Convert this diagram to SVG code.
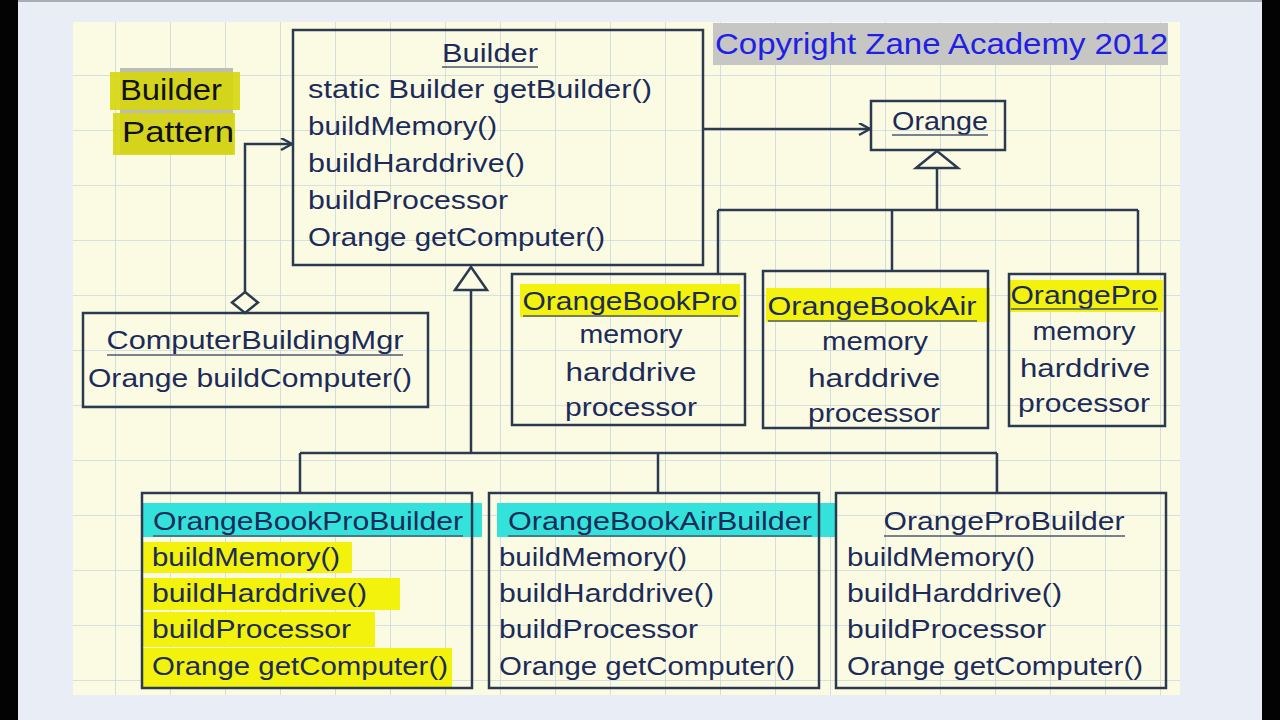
<svg xmlns="http://www.w3.org/2000/svg" width="1280" height="720" viewBox="0 0 1280 720">
<defs>
<pattern id="grid" patternUnits="userSpaceOnUse" x="60" y="20" width="55" height="55">
<path d="M0,0 V55 M0,0 H55" stroke="#c9d9dc" stroke-width="1.6" fill="none"/>
</pattern>
<marker id="open" markerUnits="userSpaceOnUse" markerWidth="14" markerHeight="14" refX="12" refY="6" orient="auto">
<path d="M1,0 L12,6 L1,12" fill="none" stroke="#2c3a4f" stroke-width="2.5"/>
</marker>
<style>
.box{fill:none;stroke:#2c3a4f;stroke-width:2.5}
.t{font-family:"Liberation Sans",Arial,sans-serif;font-size:25px;fill:#1c2b5a}
.ul{stroke:#4b5a72;stroke-width:1.6}
.yl{fill:#f2f20c}
.cy{fill:#34e2dc}
.conn path,.conn line{fill:none;stroke:#2c3a4f;stroke-width:2.5}
.head{fill:#fbfbe3;stroke:#2c3a4f;stroke-width:2.5}
</style>
</defs>
<rect x="0" y="0" width="1280" height="720" fill="#e9eef6"/>
<rect x="0" y="0" width="1280" height="2" fill="#a9adb2"/>
<rect x="73" y="22" width="1107" height="673" fill="#fbfbe3"/>
<rect x="73" y="22" width="1107" height="673" fill="url(#grid)"/>
<path d="M0,0 H18 V720 H0 Z M1262,0 H1280 V720 H1262 Z" fill="#030303"/>

<g id="label">
<rect x="120" y="68" width="113" height="86" fill="#bdbdb4"/>
<rect x="110" y="72" width="130" height="38" fill="#d6d60c" opacity="0.9"/>
<rect x="113" y="113" width="122" height="42" fill="#d6d60c" opacity="0.9"/>
<text x="120" y="100" font-family="Liberation Sans,Arial,sans-serif" font-size="30" fill="#111" textLength="102" lengthAdjust="spacingAndGlyphs">Builder</text>
<text x="122" y="142" font-family="Liberation Sans,Arial,sans-serif" font-size="30" fill="#111" textLength="112" lengthAdjust="spacingAndGlyphs">Pattern</text>
</g>

<g id="copyright">
<rect x="713" y="23" width="455" height="42" fill="#c6c6c4"/>
<text x="715" y="54" font-family="Liberation Sans,Arial,sans-serif" font-size="30" fill="#1f20e6" textLength="453" lengthAdjust="spacingAndGlyphs">Copyright Zane Academy 2012</text>
</g>

<g class="conn" id="connectors">
<line x1="703" y1="129" x2="870" y2="129" marker-end="url(#open)"/>
<path d="M245,292 V144 H292" marker-end="url(#open)"/>
<path d="M937,168 V210 M718,210 H1138 M718,210 V274 M892,210 V271 M1138,210 V274"/>
<path d="M471,290 V453 M300,453 H997 M300,453 V493 M658,453 V493 M997,453 V493"/>
<polygon class="head" points="937,151 916,168 958,168"/>
<polygon class="head" points="471,267 455,290 487,290"/>
<polygon class="head" points="245,292 258,302.5 245,313 232,302.5"/>
</g>

<g id="builder">
<rect class="box" x="293" y="30" width="410" height="235"/>
<text class="t" x="490" y="62" text-anchor="middle" textLength="96" lengthAdjust="spacingAndGlyphs">Builder</text>
<line class="ul" x1="442" y1="67" x2="538" y2="67"/>
<text class="t" x="308" y="98" textLength="344" lengthAdjust="spacingAndGlyphs">static Builder getBuilder()</text>
<text class="t" x="308" y="135" textLength="189" lengthAdjust="spacingAndGlyphs">buildMemory()</text>
<text class="t" x="308" y="172" textLength="217" lengthAdjust="spacingAndGlyphs">buildHarddrive()</text>
<text class="t" x="308" y="209" textLength="200" lengthAdjust="spacingAndGlyphs">buildProcessor</text>
<text class="t" x="308" y="246" textLength="297" lengthAdjust="spacingAndGlyphs">Orange getComputer()</text>
</g>

<g id="orange">
<rect class="box" x="871" y="101" width="134" height="49"/>
<text class="t" x="940" y="130" text-anchor="middle" textLength="96" lengthAdjust="spacingAndGlyphs">Orange</text>
<line class="ul" x1="892" y1="135" x2="988" y2="135"/>
</g>

<g id="computerBuildingMgr">
<rect class="box" x="83" y="313" width="345" height="94"/>
<text class="t" x="255" y="349" text-anchor="middle" textLength="297" lengthAdjust="spacingAndGlyphs">ComputerBuildingMgr</text>
<line class="ul" x1="107" y1="355" x2="403" y2="355"/>
<text class="t" x="88" y="387" textLength="324" lengthAdjust="spacingAndGlyphs">Orange buildComputer()</text>
</g>

<g id="orangeBookPro">
<rect class="yl" x="520" y="284" width="220" height="33"/>
<rect class="box" x="512" y="274" width="233" height="151"/>
<text class="t" x="630" y="310" text-anchor="middle" textLength="215" lengthAdjust="spacingAndGlyphs">OrangeBookPro</text>
<line class="ul" x1="523" y1="316" x2="738" y2="316"/>
<text class="t" x="631" y="343" text-anchor="middle" textLength="103" lengthAdjust="spacingAndGlyphs">memory</text>
<text class="t" x="631" y="381" text-anchor="middle" textLength="131" lengthAdjust="spacingAndGlyphs">harddrive</text>
<text class="t" x="631" y="416" text-anchor="middle" textLength="132" lengthAdjust="spacingAndGlyphs">processor</text>
</g>

<g id="orangeBookAir">
<rect class="yl" x="766" y="288" width="224" height="34"/>
<rect class="box" x="763" y="271" width="225" height="157"/>
<text class="t" x="872" y="315" text-anchor="middle" textLength="209" lengthAdjust="spacingAndGlyphs">OrangeBookAir</text>
<line class="ul" x1="768" y1="321" x2="977" y2="321"/>
<text class="t" x="875" y="350" text-anchor="middle" textLength="106" lengthAdjust="spacingAndGlyphs">memory</text>
<text class="t" x="874" y="387" text-anchor="middle" textLength="132" lengthAdjust="spacingAndGlyphs">harddrive</text>
<text class="t" x="874" y="422" text-anchor="middle" textLength="132" lengthAdjust="spacingAndGlyphs">processor</text>
</g>

<g id="orangePro">
<rect class="yl" x="1010" y="280" width="153" height="32"/>
<rect class="box" x="1009" y="274" width="156" height="152"/>
<text class="t" x="1084" y="304" text-anchor="middle" textLength="147" lengthAdjust="spacingAndGlyphs">OrangePro</text>
<line class="ul" x1="1011" y1="309" x2="1158" y2="309"/>
<text class="t" x="1084" y="340" text-anchor="middle" textLength="103" lengthAdjust="spacingAndGlyphs">memory</text>
<text class="t" x="1085" y="377" text-anchor="middle" textLength="130" lengthAdjust="spacingAndGlyphs">harddrive</text>
<text class="t" x="1084" y="412" text-anchor="middle" textLength="132" lengthAdjust="spacingAndGlyphs">processor</text>
</g>

<g id="orangeBookProBuilder">
<rect class="cy" x="143" y="503" width="339" height="34"/>
<rect class="yl" x="143" y="542" width="209" height="31"/>
<rect class="yl" x="143" y="578" width="257" height="32"/>
<rect class="yl" x="143" y="612" width="232" height="35"/>
<rect class="yl" x="143" y="648" width="309" height="40"/>
<rect class="box" x="142" y="493" width="330" height="195"/>
<text class="t" x="308" y="530" text-anchor="middle" textLength="310" lengthAdjust="spacingAndGlyphs">OrangeBookProBuilder</text>
<line class="ul" x1="153" y1="536" x2="463" y2="536"/>
<text class="t" x="152" y="566" textLength="188" lengthAdjust="spacingAndGlyphs">buildMemory()</text>
<text class="t" x="152" y="602" textLength="215" lengthAdjust="spacingAndGlyphs">buildHarddrive()</text>
<text class="t" x="152" y="638" textLength="199" lengthAdjust="spacingAndGlyphs">buildProcessor</text>
<text class="t" x="152" y="675" textLength="296" lengthAdjust="spacingAndGlyphs">Orange getComputer()</text>
</g>

<g id="orangeBookAirBuilder">
<rect class="cy" x="497" y="503" width="338" height="34"/>
<rect class="box" x="489" y="493" width="330" height="195"/>
<text class="t" x="660" y="530" text-anchor="middle" textLength="304" lengthAdjust="spacingAndGlyphs">OrangeBookAirBuilder</text>
<line class="ul" x1="508" y1="536" x2="812" y2="536"/>
<text class="t" x="499" y="566" textLength="188" lengthAdjust="spacingAndGlyphs">buildMemory()</text>
<text class="t" x="499" y="602" textLength="215" lengthAdjust="spacingAndGlyphs">buildHarddrive()</text>
<text class="t" x="499" y="638" textLength="199" lengthAdjust="spacingAndGlyphs">buildProcessor</text>
<text class="t" x="499" y="675" textLength="296" lengthAdjust="spacingAndGlyphs">Orange getComputer()</text>
</g>

<g id="orangeProBuilder">
<rect class="box" x="836" y="493" width="330" height="195"/>
<text class="t" x="1004" y="530" text-anchor="middle" textLength="241" lengthAdjust="spacingAndGlyphs">OrangeProBuilder</text>
<line class="ul" x1="884" y1="536" x2="1125" y2="536"/>
<text class="t" x="847" y="566" textLength="188" lengthAdjust="spacingAndGlyphs">buildMemory()</text>
<text class="t" x="847" y="602" textLength="215" lengthAdjust="spacingAndGlyphs">buildHarddrive()</text>
<text class="t" x="847" y="638" textLength="199" lengthAdjust="spacingAndGlyphs">buildProcessor</text>
<text class="t" x="847" y="675" textLength="296" lengthAdjust="spacingAndGlyphs">Orange getComputer()</text>
</g>
</svg>
